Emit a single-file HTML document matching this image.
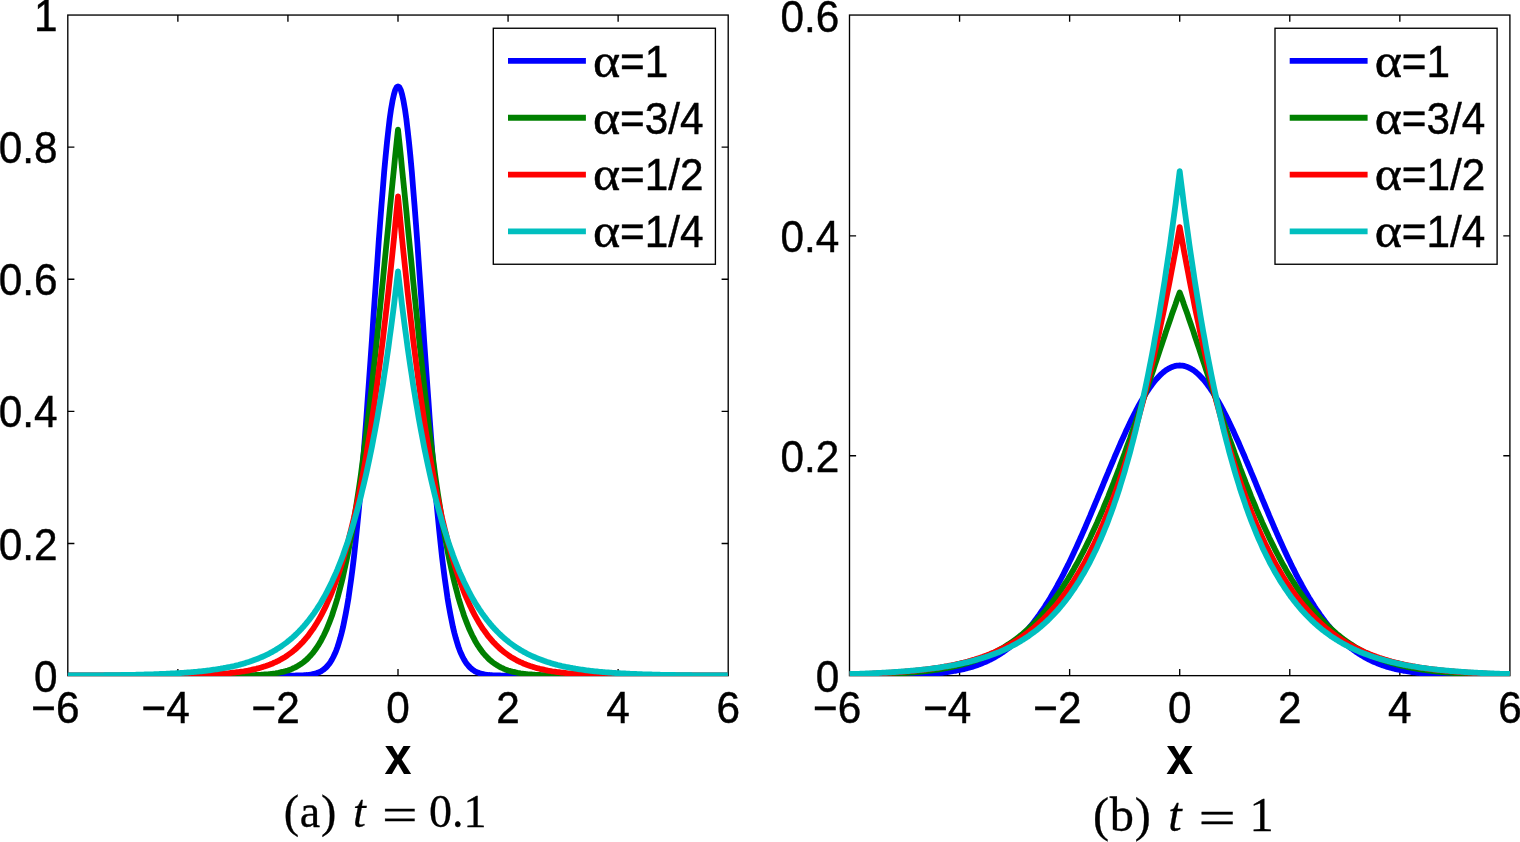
<!DOCTYPE html>
<html><head><meta charset="utf-8"><title>Fundamental solutions</title>
<style>
html,body{margin:0;padding:0;background:#fff;}
body{width:1520px;height:842px;overflow:hidden;}
svg{display:block;}
.tk{font-family:"Liberation Sans",Arial,Helvetica,sans-serif;font-size:44px;fill:#000;stroke:#000;stroke-width:0.45;}
.xl{font-family:"Liberation Sans",Arial,Helvetica,sans-serif;font-weight:bold;font-size:54px;fill:#000;}
.al{font-family:"Liberation Serif","Times New Roman",serif;fill:#000;stroke:#000;stroke-width:0.5;}
.cap{font-family:"Liberation Serif","Times New Roman",serif;fill:#000;stroke:#000;stroke-width:0.3;}
.ax{stroke:#000;stroke-width:1.35;fill:none;}
.cv{fill:none;stroke-width:5.8;stroke-linejoin:round;stroke-linecap:butt;}
</style></head><body>
<svg width="1520" height="842" viewBox="0 0 1520 842">
<rect width="1520" height="842" fill="#fff"/>

<defs>
<clipPath id="c0"><rect x="67.00" y="14.25" width="660.90" height="661.75"/></clipPath>
<clipPath id="c1"><rect x="848.70" y="14.25" width="661.80" height="661.75"/></clipPath>
</defs>
<g>
<rect class="ax" x="67.80" y="15.05" width="660.40" height="660.60"/>
<path class="ax" d="M177.87 675.65v-6.6M177.87 15.05v6.6M287.93 675.65v-6.6M287.93 15.05v6.6M398.00 675.65v-6.6M398.00 15.05v6.6M508.07 675.65v-6.6M508.07 15.05v6.6M618.13 675.65v-6.6M618.13 15.05v6.6M67.80 543.53h6.6M728.20 543.53h-6.6M67.80 411.41h6.6M728.20 411.41h-6.6M67.80 279.29h6.6M728.20 279.29h-6.6M67.80 147.17h6.6M728.20 147.17h-6.6"/>
<g clip-path="url(#c0)">
<path class="cv" stroke="#0000ff" d="M67.8 675.6L69.2 675.6L70.6 675.6L71.9 675.6L73.3 675.6L74.7 675.6L76.1 675.6L77.4 675.6L78.8 675.6L80.2 675.6L81.6 675.6L82.9 675.6L84.3 675.6L85.7 675.6L87.1 675.6L88.4 675.6L89.8 675.6L91.2 675.6L92.6 675.6L93.9 675.6L95.3 675.6L96.7 675.6L98.1 675.6L99.4 675.6L100.8 675.6L102.2 675.6L103.6 675.6L104.9 675.6L106.3 675.6L107.7 675.6L109.1 675.6L110.5 675.6L111.8 675.6L113.2 675.6L114.6 675.6L116.0 675.6L117.3 675.6L118.7 675.6L120.1 675.6L121.5 675.6L122.8 675.6L124.2 675.6L125.6 675.6L127.0 675.6L128.3 675.6L129.7 675.6L131.1 675.6L132.5 675.6L133.8 675.6L135.2 675.6L136.6 675.6L138.0 675.6L139.3 675.6L140.7 675.6L142.1 675.6L143.5 675.6L144.8 675.6L146.2 675.6L147.6 675.6L149.0 675.6L150.3 675.6L151.7 675.6L153.1 675.6L154.5 675.6L155.9 675.6L157.2 675.6L158.6 675.6L160.0 675.6L161.4 675.6L162.7 675.6L164.1 675.6L165.5 675.6L166.9 675.6L168.2 675.6L169.6 675.6L171.0 675.6L172.4 675.6L173.7 675.6L175.1 675.6L176.5 675.6L177.9 675.6L179.2 675.6L180.6 675.6L182.0 675.6L183.4 675.6L184.7 675.6L186.1 675.6L187.5 675.6L188.9 675.6L190.2 675.6L191.6 675.6L193.0 675.6L194.4 675.6L195.8 675.6L197.1 675.6L198.5 675.6L199.9 675.6L201.3 675.6L202.6 675.6L204.0 675.6L205.4 675.6L206.8 675.6L208.1 675.6L209.5 675.6L210.9 675.6L212.3 675.6L213.6 675.6L215.0 675.6L216.4 675.6L217.8 675.6L219.1 675.6L220.5 675.6L221.9 675.6L223.3 675.6L224.6 675.6L226.0 675.6L227.4 675.6L228.8 675.6L230.1 675.6L231.5 675.6L232.9 675.6L234.3 675.6L235.7 675.6L237.0 675.6L238.4 675.6L239.8 675.6L241.2 675.6L242.5 675.6L243.9 675.6L245.3 675.6L246.7 675.6L248.0 675.6L249.4 675.6L250.8 675.6L252.2 675.6L253.5 675.6L254.9 675.6L256.3 675.6L257.7 675.6L259.0 675.6L260.4 675.6L261.8 675.6L263.2 675.6L264.5 675.6L265.9 675.6L267.3 675.6L268.7 675.6L270.0 675.6L271.4 675.6L272.8 675.6L274.2 675.6L275.6 675.6L276.9 675.6L278.3 675.6L279.7 675.6L281.1 675.6L282.4 675.6L283.8 675.6L285.2 675.6L286.6 675.6L287.9 675.6L289.3 675.6L290.7 675.6L292.1 675.6L293.4 675.6L294.8 675.6L296.2 675.5L297.6 675.5L298.9 675.5L300.3 675.4L301.7 675.4L303.1 675.3L304.4 675.2L305.8 675.1L307.2 675.0L308.6 674.8L309.9 674.7L311.3 674.5L312.7 674.2L314.1 673.9L315.4 673.5L316.8 673.1L318.2 672.6L319.6 672.0L321.0 671.3L322.3 670.4L323.7 669.5L325.1 668.3L326.5 667.0L327.8 665.5L329.2 663.8L330.6 661.8L332.0 659.5L333.3 657.0L334.7 654.1L336.1 650.8L337.5 647.0L338.8 642.9L340.2 638.2L341.6 633.0L343.0 627.3L344.3 620.9L345.7 613.9L347.1 606.3L348.5 597.9L349.8 588.7L351.2 578.8L352.6 568.2L354.0 556.7L355.3 544.4L356.7 531.2L358.1 517.3L359.5 502.5L360.9 487.0L362.2 470.7L363.6 453.7L365.0 436.1L366.4 417.8L367.7 399.0L369.1 379.8L370.5 360.2L371.9 340.4L373.2 320.5L374.6 300.5L376.0 280.6L377.4 261.0L378.7 241.8L380.1 223.1L381.5 205.1L382.9 187.9L384.2 171.6L385.6 156.4L387.0 142.4L388.4 129.8L389.7 118.6L391.1 108.9L392.5 100.9L393.9 94.6L395.2 90.0L396.6 87.3L398.0 86.4L399.4 87.3L400.8 90.0L402.1 94.6L403.5 100.9L404.9 108.9L406.3 118.6L407.6 129.8L409.0 142.4L410.4 156.4L411.8 171.6L413.1 187.9L414.5 205.1L415.9 223.1L417.3 241.8L418.6 261.0L420.0 280.6L421.4 300.5L422.8 320.5L424.1 340.4L425.5 360.2L426.9 379.8L428.3 399.0L429.6 417.8L431.0 436.1L432.4 453.7L433.8 470.7L435.1 487.0L436.5 502.5L437.9 517.3L439.3 531.2L440.7 544.4L442.0 556.7L443.4 568.2L444.8 578.8L446.2 588.7L447.5 597.9L448.9 606.3L450.3 613.9L451.7 620.9L453.0 627.3L454.4 633.0L455.8 638.2L457.2 642.9L458.5 647.0L459.9 650.8L461.3 654.1L462.7 657.0L464.0 659.5L465.4 661.8L466.8 663.8L468.2 665.5L469.5 667.0L470.9 668.3L472.3 669.5L473.7 670.4L475.0 671.3L476.4 672.0L477.8 672.6L479.2 673.1L480.6 673.5L481.9 673.9L483.3 674.2L484.7 674.5L486.1 674.7L487.4 674.8L488.8 675.0L490.2 675.1L491.6 675.2L492.9 675.3L494.3 675.4L495.7 675.4L497.1 675.5L498.4 675.5L499.8 675.5L501.2 675.6L502.6 675.6L503.9 675.6L505.3 675.6L506.7 675.6L508.1 675.6L509.4 675.6L510.8 675.6L512.2 675.6L513.6 675.6L514.9 675.6L516.3 675.6L517.7 675.6L519.1 675.6L520.4 675.6L521.8 675.6L523.2 675.6L524.6 675.6L526.0 675.6L527.3 675.6L528.7 675.6L530.1 675.6L531.5 675.6L532.8 675.6L534.2 675.6L535.6 675.6L537.0 675.6L538.3 675.6L539.7 675.6L541.1 675.6L542.5 675.6L543.8 675.6L545.2 675.6L546.6 675.6L548.0 675.6L549.3 675.6L550.7 675.6L552.1 675.6L553.5 675.6L554.8 675.6L556.2 675.6L557.6 675.6L559.0 675.6L560.3 675.6L561.7 675.6L563.1 675.6L564.5 675.6L565.9 675.6L567.2 675.6L568.6 675.6L570.0 675.6L571.4 675.6L572.7 675.6L574.1 675.6L575.5 675.6L576.9 675.6L578.2 675.6L579.6 675.6L581.0 675.6L582.4 675.6L583.7 675.6L585.1 675.6L586.5 675.6L587.9 675.6L589.2 675.6L590.6 675.6L592.0 675.6L593.4 675.6L594.7 675.6L596.1 675.6L597.5 675.6L598.9 675.6L600.2 675.6L601.6 675.6L603.0 675.6L604.4 675.6L605.8 675.6L607.1 675.6L608.5 675.6L609.9 675.6L611.3 675.6L612.6 675.6L614.0 675.6L615.4 675.6L616.8 675.6L618.1 675.6L619.5 675.6L620.9 675.6L622.3 675.6L623.6 675.6L625.0 675.6L626.4 675.6L627.8 675.6L629.1 675.6L630.5 675.6L631.9 675.6L633.3 675.6L634.6 675.6L636.0 675.6L637.4 675.6L638.8 675.6L640.1 675.6L641.5 675.6L642.9 675.6L644.3 675.6L645.6 675.6L647.0 675.6L648.4 675.6L649.8 675.6L651.2 675.6L652.5 675.6L653.9 675.6L655.3 675.6L656.7 675.6L658.0 675.6L659.4 675.6L660.8 675.6L662.2 675.6L663.5 675.6L664.9 675.6L666.3 675.6L667.7 675.6L669.0 675.6L670.4 675.6L671.8 675.6L673.2 675.6L674.5 675.6L675.9 675.6L677.3 675.6L678.7 675.6L680.0 675.6L681.4 675.6L682.8 675.6L684.2 675.6L685.5 675.6L686.9 675.6L688.3 675.6L689.7 675.6L691.1 675.6L692.4 675.6L693.8 675.6L695.2 675.6L696.6 675.6L697.9 675.6L699.3 675.6L700.7 675.6L702.1 675.6L703.4 675.6L704.8 675.6L706.2 675.6L707.6 675.6L708.9 675.6L710.3 675.6L711.7 675.6L713.1 675.6L714.4 675.6L715.8 675.6L717.2 675.6L718.6 675.6L719.9 675.6L721.3 675.6L722.7 675.6L724.1 675.6L725.4 675.6L726.8 675.6L728.2 675.6"/>
<path class="cv" stroke="#008000" d="M67.8 675.6L69.2 675.6L70.6 675.6L71.9 675.6L73.3 675.6L74.7 675.6L76.1 675.6L77.4 675.6L78.8 675.6L80.2 675.6L81.6 675.6L82.9 675.6L84.3 675.6L85.7 675.6L87.1 675.6L88.4 675.6L89.8 675.6L91.2 675.6L92.6 675.6L93.9 675.6L95.3 675.6L96.7 675.6L98.1 675.6L99.4 675.6L100.8 675.6L102.2 675.6L103.6 675.6L104.9 675.6L106.3 675.6L107.7 675.6L109.1 675.6L110.5 675.6L111.8 675.6L113.2 675.6L114.6 675.6L116.0 675.6L117.3 675.6L118.7 675.6L120.1 675.6L121.5 675.6L122.8 675.6L124.2 675.6L125.6 675.6L127.0 675.6L128.3 675.6L129.7 675.6L131.1 675.6L132.5 675.6L133.8 675.6L135.2 675.6L136.6 675.6L138.0 675.6L139.3 675.6L140.7 675.6L142.1 675.6L143.5 675.6L144.8 675.6L146.2 675.6L147.6 675.6L149.0 675.6L150.3 675.6L151.7 675.6L153.1 675.6L154.5 675.6L155.9 675.6L157.2 675.6L158.6 675.6L160.0 675.6L161.4 675.6L162.7 675.6L164.1 675.6L165.5 675.6L166.9 675.6L168.2 675.6L169.6 675.6L171.0 675.6L172.4 675.6L173.7 675.6L175.1 675.6L176.5 675.6L177.9 675.6L179.2 675.6L180.6 675.6L182.0 675.6L183.4 675.6L184.7 675.6L186.1 675.6L187.5 675.6L188.9 675.6L190.2 675.6L191.6 675.6L193.0 675.6L194.4 675.6L195.8 675.6L197.1 675.6L198.5 675.6L199.9 675.6L201.3 675.6L202.6 675.6L204.0 675.6L205.4 675.6L206.8 675.6L208.1 675.6L209.5 675.6L210.9 675.6L212.3 675.6L213.6 675.6L215.0 675.6L216.4 675.6L217.8 675.6L219.1 675.6L220.5 675.6L221.9 675.6L223.3 675.6L224.6 675.6L226.0 675.6L227.4 675.6L228.8 675.6L230.1 675.6L231.5 675.6L232.9 675.5L234.3 675.5L235.7 675.5L237.0 675.5L238.4 675.5L239.8 675.5L241.2 675.4L242.5 675.4L243.9 675.4L245.3 675.4L246.7 675.3L248.0 675.3L249.4 675.3L250.8 675.2L252.2 675.2L253.5 675.1L254.9 675.1L256.3 675.0L257.7 675.0L259.0 674.9L260.4 674.8L261.8 674.7L263.2 674.6L264.5 674.5L265.9 674.4L267.3 674.3L268.7 674.2L270.0 674.0L271.4 673.8L272.8 673.7L274.2 673.5L275.6 673.3L276.9 673.0L278.3 672.8L279.7 672.5L281.1 672.2L282.4 671.9L283.8 671.6L285.2 671.2L286.6 670.8L287.9 670.4L289.3 669.9L290.7 669.4L292.1 668.8L293.4 668.2L294.8 667.6L296.2 666.9L297.6 666.1L298.9 665.3L300.3 664.4L301.7 663.5L303.1 662.5L304.4 661.4L305.8 660.3L307.2 659.0L308.6 657.7L309.9 656.2L311.3 654.7L312.7 653.1L314.1 651.3L315.4 649.5L316.8 647.5L318.2 645.4L319.6 643.1L321.0 640.7L322.3 638.2L323.7 635.5L325.1 632.6L326.5 629.6L327.8 626.3L329.2 622.9L330.6 619.3L332.0 615.5L333.3 611.4L334.7 607.2L336.1 602.7L337.5 598.0L338.8 593.0L340.2 587.8L341.6 582.3L343.0 576.5L344.3 570.5L345.7 564.2L347.1 557.6L348.5 550.7L349.8 543.5L351.2 536.0L352.6 528.2L354.0 520.1L355.3 511.6L356.7 502.8L358.1 493.8L359.5 484.3L360.9 474.6L362.2 464.6L363.6 454.2L365.0 443.5L366.4 432.5L367.7 421.2L369.1 409.6L370.5 397.7L371.9 385.6L373.2 373.1L374.6 360.5L376.0 347.6L377.4 334.5L378.7 321.1L380.1 307.7L381.5 294.0L382.9 280.3L384.2 266.4L385.6 252.5L387.0 238.5L388.4 224.5L389.7 210.6L391.1 196.7L392.5 182.9L393.9 169.3L395.2 155.8L396.6 142.6L398.0 129.6L399.4 142.6L400.8 155.8L402.1 169.3L403.5 182.9L404.9 196.7L406.3 210.6L407.6 224.5L409.0 238.5L410.4 252.5L411.8 266.4L413.1 280.3L414.5 294.0L415.9 307.7L417.3 321.1L418.6 334.5L420.0 347.6L421.4 360.5L422.8 373.1L424.1 385.6L425.5 397.7L426.9 409.6L428.3 421.2L429.6 432.5L431.0 443.5L432.4 454.2L433.8 464.6L435.1 474.6L436.5 484.3L437.9 493.8L439.3 502.8L440.7 511.6L442.0 520.1L443.4 528.2L444.8 536.0L446.2 543.5L447.5 550.7L448.9 557.6L450.3 564.2L451.7 570.5L453.0 576.5L454.4 582.3L455.8 587.8L457.2 593.0L458.5 598.0L459.9 602.7L461.3 607.2L462.7 611.4L464.0 615.5L465.4 619.3L466.8 622.9L468.2 626.3L469.5 629.6L470.9 632.6L472.3 635.5L473.7 638.2L475.0 640.7L476.4 643.1L477.8 645.4L479.2 647.5L480.6 649.5L481.9 651.3L483.3 653.1L484.7 654.7L486.1 656.2L487.4 657.7L488.8 659.0L490.2 660.3L491.6 661.4L492.9 662.5L494.3 663.5L495.7 664.4L497.1 665.3L498.4 666.1L499.8 666.9L501.2 667.6L502.6 668.2L503.9 668.8L505.3 669.4L506.7 669.9L508.1 670.4L509.4 670.8L510.8 671.2L512.2 671.6L513.6 671.9L514.9 672.2L516.3 672.5L517.7 672.8L519.1 673.0L520.4 673.3L521.8 673.5L523.2 673.7L524.6 673.8L526.0 674.0L527.3 674.2L528.7 674.3L530.1 674.4L531.5 674.5L532.8 674.6L534.2 674.7L535.6 674.8L537.0 674.9L538.3 675.0L539.7 675.0L541.1 675.1L542.5 675.1L543.8 675.2L545.2 675.2L546.6 675.3L548.0 675.3L549.3 675.3L550.7 675.4L552.1 675.4L553.5 675.4L554.8 675.4L556.2 675.5L557.6 675.5L559.0 675.5L560.3 675.5L561.7 675.5L563.1 675.5L564.5 675.6L565.9 675.6L567.2 675.6L568.6 675.6L570.0 675.6L571.4 675.6L572.7 675.6L574.1 675.6L575.5 675.6L576.9 675.6L578.2 675.6L579.6 675.6L581.0 675.6L582.4 675.6L583.7 675.6L585.1 675.6L586.5 675.6L587.9 675.6L589.2 675.6L590.6 675.6L592.0 675.6L593.4 675.6L594.7 675.6L596.1 675.6L597.5 675.6L598.9 675.6L600.2 675.6L601.6 675.6L603.0 675.6L604.4 675.6L605.8 675.6L607.1 675.6L608.5 675.6L609.9 675.6L611.3 675.6L612.6 675.6L614.0 675.6L615.4 675.6L616.8 675.6L618.1 675.6L619.5 675.6L620.9 675.6L622.3 675.6L623.6 675.6L625.0 675.6L626.4 675.6L627.8 675.6L629.1 675.6L630.5 675.6L631.9 675.6L633.3 675.6L634.6 675.6L636.0 675.6L637.4 675.6L638.8 675.6L640.1 675.6L641.5 675.6L642.9 675.6L644.3 675.6L645.6 675.6L647.0 675.6L648.4 675.6L649.8 675.6L651.2 675.6L652.5 675.6L653.9 675.6L655.3 675.6L656.7 675.6L658.0 675.6L659.4 675.6L660.8 675.6L662.2 675.6L663.5 675.6L664.9 675.6L666.3 675.6L667.7 675.6L669.0 675.6L670.4 675.6L671.8 675.6L673.2 675.6L674.5 675.6L675.9 675.6L677.3 675.6L678.7 675.6L680.0 675.6L681.4 675.6L682.8 675.6L684.2 675.6L685.5 675.6L686.9 675.6L688.3 675.6L689.7 675.6L691.1 675.6L692.4 675.6L693.8 675.6L695.2 675.6L696.6 675.6L697.9 675.6L699.3 675.6L700.7 675.6L702.1 675.6L703.4 675.6L704.8 675.6L706.2 675.6L707.6 675.6L708.9 675.6L710.3 675.6L711.7 675.6L713.1 675.6L714.4 675.6L715.8 675.6L717.2 675.6L718.6 675.6L719.9 675.6L721.3 675.6L722.7 675.6L724.1 675.6L725.4 675.6L726.8 675.6L728.2 675.6"/>
<path class="cv" stroke="#ff0000" d="M67.8 675.6L69.2 675.6L70.6 675.6L71.9 675.6L73.3 675.6L74.7 675.6L76.1 675.6L77.4 675.6L78.8 675.6L80.2 675.6L81.6 675.6L82.9 675.6L84.3 675.6L85.7 675.6L87.1 675.6L88.4 675.6L89.8 675.6L91.2 675.6L92.6 675.6L93.9 675.6L95.3 675.6L96.7 675.6L98.1 675.6L99.4 675.6L100.8 675.6L102.2 675.6L103.6 675.6L104.9 675.6L106.3 675.6L107.7 675.6L109.1 675.6L110.5 675.6L111.8 675.6L113.2 675.6L114.6 675.6L116.0 675.6L117.3 675.6L118.7 675.6L120.1 675.6L121.5 675.6L122.8 675.6L124.2 675.6L125.6 675.6L127.0 675.6L128.3 675.6L129.7 675.6L131.1 675.6L132.5 675.6L133.8 675.6L135.2 675.6L136.6 675.6L138.0 675.6L139.3 675.6L140.7 675.6L142.1 675.6L143.5 675.6L144.8 675.6L146.2 675.6L147.6 675.6L149.0 675.5L150.3 675.5L151.7 675.5L153.1 675.5L154.5 675.5L155.9 675.5L157.2 675.5L158.6 675.5L160.0 675.5L161.4 675.5L162.7 675.5L164.1 675.5L165.5 675.4L166.9 675.4L168.2 675.4L169.6 675.4L171.0 675.4L172.4 675.4L173.7 675.4L175.1 675.3L176.5 675.3L177.9 675.3L179.2 675.3L180.6 675.3L182.0 675.2L183.4 675.2L184.7 675.2L186.1 675.2L187.5 675.1L188.9 675.1L190.2 675.1L191.6 675.1L193.0 675.0L194.4 675.0L195.8 675.0L197.1 674.9L198.5 674.9L199.9 674.8L201.3 674.8L202.6 674.7L204.0 674.7L205.4 674.6L206.8 674.6L208.1 674.5L209.5 674.5L210.9 674.4L212.3 674.3L213.6 674.2L215.0 674.2L216.4 674.1L217.8 674.0L219.1 673.9L220.5 673.8L221.9 673.7L223.3 673.6L224.6 673.5L226.0 673.4L227.4 673.3L228.8 673.2L230.1 673.0L231.5 672.9L232.9 672.7L234.3 672.6L235.7 672.4L237.0 672.2L238.4 672.1L239.8 671.9L241.2 671.7L242.5 671.5L243.9 671.3L245.3 671.0L246.7 670.8L248.0 670.6L249.4 670.3L250.8 670.0L252.2 669.7L253.5 669.4L254.9 669.1L256.3 668.8L257.7 668.4L259.0 668.1L260.4 667.7L261.8 667.3L263.2 666.9L264.5 666.4L265.9 666.0L267.3 665.5L268.7 665.0L270.0 664.5L271.4 663.9L272.8 663.4L274.2 662.7L275.6 662.1L276.9 661.5L278.3 660.8L279.7 660.1L281.1 659.3L282.4 658.5L283.8 657.7L285.2 656.9L286.6 656.0L287.9 655.0L289.3 654.0L290.7 653.0L292.1 652.0L293.4 650.9L294.8 649.7L296.2 648.5L297.6 647.2L298.9 645.9L300.3 644.6L301.7 643.1L303.1 641.7L304.4 640.1L305.8 638.5L307.2 636.8L308.6 635.1L309.9 633.2L311.3 631.3L312.7 629.4L314.1 627.3L315.4 625.2L316.8 623.0L318.2 620.6L319.6 618.2L321.0 615.7L322.3 613.1L323.7 610.4L325.1 607.6L326.5 604.7L327.8 601.7L329.2 598.6L330.6 595.3L332.0 591.9L333.3 588.4L334.7 584.8L336.1 581.0L337.5 577.1L338.8 573.0L340.2 568.8L341.6 564.4L343.0 559.9L344.3 555.2L345.7 550.4L347.1 545.4L348.5 540.2L349.8 534.8L351.2 529.3L352.6 523.5L354.0 517.6L355.3 511.5L356.7 505.1L358.1 498.6L359.5 491.8L360.9 484.8L362.2 477.6L363.6 470.2L365.0 462.5L366.4 454.6L367.7 446.4L369.1 438.0L370.5 429.4L371.9 420.5L373.2 411.3L374.6 401.8L376.0 392.1L377.4 382.1L378.7 371.8L380.1 361.3L381.5 350.4L382.9 339.3L384.2 327.8L385.6 316.1L387.0 304.0L388.4 291.7L389.7 279.0L391.1 266.0L392.5 252.7L393.9 239.1L395.2 225.2L396.6 210.9L398.0 196.3L399.4 210.9L400.8 225.2L402.1 239.1L403.5 252.7L404.9 266.0L406.3 279.0L407.6 291.7L409.0 304.0L410.4 316.1L411.8 327.8L413.1 339.3L414.5 350.4L415.9 361.3L417.3 371.8L418.6 382.1L420.0 392.1L421.4 401.8L422.8 411.3L424.1 420.5L425.5 429.4L426.9 438.0L428.3 446.4L429.6 454.6L431.0 462.5L432.4 470.2L433.8 477.6L435.1 484.8L436.5 491.8L437.9 498.6L439.3 505.1L440.7 511.5L442.0 517.6L443.4 523.5L444.8 529.3L446.2 534.8L447.5 540.2L448.9 545.4L450.3 550.4L451.7 555.2L453.0 559.9L454.4 564.4L455.8 568.8L457.2 573.0L458.5 577.1L459.9 581.0L461.3 584.8L462.7 588.4L464.0 591.9L465.4 595.3L466.8 598.6L468.2 601.7L469.5 604.7L470.9 607.6L472.3 610.4L473.7 613.1L475.0 615.7L476.4 618.2L477.8 620.6L479.2 623.0L480.6 625.2L481.9 627.3L483.3 629.4L484.7 631.3L486.1 633.2L487.4 635.1L488.8 636.8L490.2 638.5L491.6 640.1L492.9 641.7L494.3 643.1L495.7 644.6L497.1 645.9L498.4 647.2L499.8 648.5L501.2 649.7L502.6 650.9L503.9 652.0L505.3 653.0L506.7 654.0L508.1 655.0L509.4 656.0L510.8 656.9L512.2 657.7L513.6 658.5L514.9 659.3L516.3 660.1L517.7 660.8L519.1 661.5L520.4 662.1L521.8 662.7L523.2 663.4L524.6 663.9L526.0 664.5L527.3 665.0L528.7 665.5L530.1 666.0L531.5 666.4L532.8 666.9L534.2 667.3L535.6 667.7L537.0 668.1L538.3 668.4L539.7 668.8L541.1 669.1L542.5 669.4L543.8 669.7L545.2 670.0L546.6 670.3L548.0 670.6L549.3 670.8L550.7 671.0L552.1 671.3L553.5 671.5L554.8 671.7L556.2 671.9L557.6 672.1L559.0 672.2L560.3 672.4L561.7 672.6L563.1 672.7L564.5 672.9L565.9 673.0L567.2 673.2L568.6 673.3L570.0 673.4L571.4 673.5L572.7 673.6L574.1 673.7L575.5 673.8L576.9 673.9L578.2 674.0L579.6 674.1L581.0 674.2L582.4 674.2L583.7 674.3L585.1 674.4L586.5 674.5L587.9 674.5L589.2 674.6L590.6 674.6L592.0 674.7L593.4 674.7L594.7 674.8L596.1 674.8L597.5 674.9L598.9 674.9L600.2 675.0L601.6 675.0L603.0 675.0L604.4 675.1L605.8 675.1L607.1 675.1L608.5 675.1L609.9 675.2L611.3 675.2L612.6 675.2L614.0 675.2L615.4 675.3L616.8 675.3L618.1 675.3L619.5 675.3L620.9 675.3L622.3 675.4L623.6 675.4L625.0 675.4L626.4 675.4L627.8 675.4L629.1 675.4L630.5 675.4L631.9 675.5L633.3 675.5L634.6 675.5L636.0 675.5L637.4 675.5L638.8 675.5L640.1 675.5L641.5 675.5L642.9 675.5L644.3 675.5L645.6 675.5L647.0 675.5L648.4 675.6L649.8 675.6L651.2 675.6L652.5 675.6L653.9 675.6L655.3 675.6L656.7 675.6L658.0 675.6L659.4 675.6L660.8 675.6L662.2 675.6L663.5 675.6L664.9 675.6L666.3 675.6L667.7 675.6L669.0 675.6L670.4 675.6L671.8 675.6L673.2 675.6L674.5 675.6L675.9 675.6L677.3 675.6L678.7 675.6L680.0 675.6L681.4 675.6L682.8 675.6L684.2 675.6L685.5 675.6L686.9 675.6L688.3 675.6L689.7 675.6L691.1 675.6L692.4 675.6L693.8 675.6L695.2 675.6L696.6 675.6L697.9 675.6L699.3 675.6L700.7 675.6L702.1 675.6L703.4 675.6L704.8 675.6L706.2 675.6L707.6 675.6L708.9 675.6L710.3 675.6L711.7 675.6L713.1 675.6L714.4 675.6L715.8 675.6L717.2 675.6L718.6 675.6L719.9 675.6L721.3 675.6L722.7 675.6L724.1 675.6L725.4 675.6L726.8 675.6L728.2 675.6"/>
<path class="cv" stroke="#00bfbf" d="M67.8 675.5L69.2 675.5L70.6 675.5L71.9 675.5L73.3 675.5L74.7 675.5L76.1 675.5L77.4 675.4L78.8 675.4L80.2 675.4L81.6 675.4L82.9 675.4L84.3 675.4L85.7 675.4L87.1 675.4L88.4 675.4L89.8 675.4L91.2 675.4L92.6 675.3L93.9 675.3L95.3 675.3L96.7 675.3L98.1 675.3L99.4 675.3L100.8 675.3L102.2 675.3L103.6 675.3L104.9 675.2L106.3 675.2L107.7 675.2L109.1 675.2L110.5 675.2L111.8 675.2L113.2 675.1L114.6 675.1L116.0 675.1L117.3 675.1L118.7 675.1L120.1 675.1L121.5 675.0L122.8 675.0L124.2 675.0L125.6 675.0L127.0 674.9L128.3 674.9L129.7 674.9L131.1 674.9L132.5 674.8L133.8 674.8L135.2 674.8L136.6 674.7L138.0 674.7L139.3 674.7L140.7 674.7L142.1 674.6L143.5 674.6L144.8 674.5L146.2 674.5L147.6 674.5L149.0 674.4L150.3 674.4L151.7 674.3L153.1 674.3L154.5 674.2L155.9 674.2L157.2 674.1L158.6 674.1L160.0 674.0L161.4 674.0L162.7 673.9L164.1 673.9L165.5 673.8L166.9 673.7L168.2 673.7L169.6 673.6L171.0 673.5L172.4 673.5L173.7 673.4L175.1 673.3L176.5 673.2L177.9 673.2L179.2 673.1L180.6 673.0L182.0 672.9L183.4 672.8L184.7 672.7L186.1 672.6L187.5 672.5L188.9 672.4L190.2 672.3L191.6 672.2L193.0 672.1L194.4 671.9L195.8 671.8L197.1 671.7L198.5 671.5L199.9 671.4L201.3 671.3L202.6 671.1L204.0 671.0L205.4 670.8L206.8 670.6L208.1 670.5L209.5 670.3L210.9 670.1L212.3 669.9L213.6 669.7L215.0 669.5L216.4 669.3L217.8 669.1L219.1 668.9L220.5 668.7L221.9 668.4L223.3 668.2L224.6 667.9L226.0 667.7L227.4 667.4L228.8 667.1L230.1 666.9L231.5 666.6L232.9 666.3L234.3 666.0L235.7 665.6L237.0 665.3L238.4 665.0L239.8 664.6L241.2 664.2L242.5 663.9L243.9 663.5L245.3 663.1L246.7 662.6L248.0 662.2L249.4 661.8L250.8 661.3L252.2 660.8L253.5 660.3L254.9 659.8L256.3 659.3L257.7 658.8L259.0 658.2L260.4 657.6L261.8 657.1L263.2 656.4L264.5 655.8L265.9 655.2L267.3 654.5L268.7 653.8L270.0 653.1L271.4 652.3L272.8 651.6L274.2 650.8L275.6 650.0L276.9 649.1L278.3 648.3L279.7 647.4L281.1 646.5L282.4 645.5L283.8 644.5L285.2 643.5L286.6 642.5L287.9 641.4L289.3 640.3L290.7 639.1L292.1 638.0L293.4 636.7L294.8 635.5L296.2 634.2L297.6 632.8L298.9 631.5L300.3 630.0L301.7 628.6L303.1 627.1L304.4 625.5L305.8 623.9L307.2 622.2L308.6 620.5L309.9 618.7L311.3 616.9L312.7 615.0L314.1 613.1L315.4 611.1L316.8 609.1L318.2 606.9L319.6 604.7L321.0 602.5L322.3 600.2L323.7 597.8L325.1 595.3L326.5 592.7L327.8 590.1L329.2 587.4L330.6 584.6L332.0 581.7L333.3 578.8L334.7 575.7L336.1 572.6L337.5 569.3L338.8 566.0L340.2 562.5L341.6 559.0L343.0 555.3L344.3 551.5L345.7 547.6L347.1 543.6L348.5 539.5L349.8 535.2L351.2 530.9L352.6 526.3L354.0 521.7L355.3 516.9L356.7 512.0L358.1 506.9L359.5 501.7L360.9 496.3L362.2 490.7L363.6 485.0L365.0 479.1L366.4 473.0L367.7 466.8L369.1 460.3L370.5 453.7L371.9 446.9L373.2 439.9L374.6 432.6L376.0 425.2L377.4 417.5L378.7 409.6L380.1 401.5L381.5 393.1L382.9 384.5L384.2 375.6L385.6 366.5L387.0 357.1L388.4 347.5L389.7 337.5L391.1 327.3L392.5 316.7L393.9 305.9L395.2 294.7L396.6 283.2L398.0 271.4L399.4 283.2L400.8 294.7L402.1 305.9L403.5 316.7L404.9 327.3L406.3 337.5L407.6 347.5L409.0 357.1L410.4 366.5L411.8 375.6L413.1 384.5L414.5 393.1L415.9 401.5L417.3 409.6L418.6 417.5L420.0 425.2L421.4 432.6L422.8 439.9L424.1 446.9L425.5 453.7L426.9 460.3L428.3 466.8L429.6 473.0L431.0 479.1L432.4 485.0L433.8 490.7L435.1 496.3L436.5 501.7L437.9 506.9L439.3 512.0L440.7 516.9L442.0 521.7L443.4 526.3L444.8 530.9L446.2 535.2L447.5 539.5L448.9 543.6L450.3 547.6L451.7 551.5L453.0 555.3L454.4 559.0L455.8 562.5L457.2 566.0L458.5 569.3L459.9 572.6L461.3 575.7L462.7 578.8L464.0 581.7L465.4 584.6L466.8 587.4L468.2 590.1L469.5 592.7L470.9 595.3L472.3 597.8L473.7 600.2L475.0 602.5L476.4 604.7L477.8 606.9L479.2 609.1L480.6 611.1L481.9 613.1L483.3 615.0L484.7 616.9L486.1 618.7L487.4 620.5L488.8 622.2L490.2 623.9L491.6 625.5L492.9 627.1L494.3 628.6L495.7 630.0L497.1 631.5L498.4 632.8L499.8 634.2L501.2 635.5L502.6 636.7L503.9 638.0L505.3 639.1L506.7 640.3L508.1 641.4L509.4 642.5L510.8 643.5L512.2 644.5L513.6 645.5L514.9 646.5L516.3 647.4L517.7 648.3L519.1 649.1L520.4 650.0L521.8 650.8L523.2 651.6L524.6 652.3L526.0 653.1L527.3 653.8L528.7 654.5L530.1 655.2L531.5 655.8L532.8 656.4L534.2 657.1L535.6 657.6L537.0 658.2L538.3 658.8L539.7 659.3L541.1 659.8L542.5 660.3L543.8 660.8L545.2 661.3L546.6 661.8L548.0 662.2L549.3 662.6L550.7 663.1L552.1 663.5L553.5 663.9L554.8 664.2L556.2 664.6L557.6 665.0L559.0 665.3L560.3 665.6L561.7 666.0L563.1 666.3L564.5 666.6L565.9 666.9L567.2 667.1L568.6 667.4L570.0 667.7L571.4 667.9L572.7 668.2L574.1 668.4L575.5 668.7L576.9 668.9L578.2 669.1L579.6 669.3L581.0 669.5L582.4 669.7L583.7 669.9L585.1 670.1L586.5 670.3L587.9 670.5L589.2 670.6L590.6 670.8L592.0 671.0L593.4 671.1L594.7 671.3L596.1 671.4L597.5 671.5L598.9 671.7L600.2 671.8L601.6 671.9L603.0 672.1L604.4 672.2L605.8 672.3L607.1 672.4L608.5 672.5L609.9 672.6L611.3 672.7L612.6 672.8L614.0 672.9L615.4 673.0L616.8 673.1L618.1 673.2L619.5 673.2L620.9 673.3L622.3 673.4L623.6 673.5L625.0 673.5L626.4 673.6L627.8 673.7L629.1 673.7L630.5 673.8L631.9 673.9L633.3 673.9L634.6 674.0L636.0 674.0L637.4 674.1L638.8 674.1L640.1 674.2L641.5 674.2L642.9 674.3L644.3 674.3L645.6 674.4L647.0 674.4L648.4 674.5L649.8 674.5L651.2 674.5L652.5 674.6L653.9 674.6L655.3 674.7L656.7 674.7L658.0 674.7L659.4 674.7L660.8 674.8L662.2 674.8L663.5 674.8L664.9 674.9L666.3 674.9L667.7 674.9L669.0 674.9L670.4 675.0L671.8 675.0L673.2 675.0L674.5 675.0L675.9 675.1L677.3 675.1L678.7 675.1L680.0 675.1L681.4 675.1L682.8 675.1L684.2 675.2L685.5 675.2L686.9 675.2L688.3 675.2L689.7 675.2L691.1 675.2L692.4 675.3L693.8 675.3L695.2 675.3L696.6 675.3L697.9 675.3L699.3 675.3L700.7 675.3L702.1 675.3L703.4 675.3L704.8 675.4L706.2 675.4L707.6 675.4L708.9 675.4L710.3 675.4L711.7 675.4L713.1 675.4L714.4 675.4L715.8 675.4L717.2 675.4L718.6 675.4L719.9 675.5L721.3 675.5L722.7 675.5L724.1 675.5L725.4 675.5L726.8 675.5L728.2 675.5"/>
</g>
<text class="tk" text-anchor="end" transform="translate(57.60 691.65) scale(0.962 1)">0</text>
<text class="tk" text-anchor="end" transform="translate(57.60 559.53) scale(0.962 1)">0.2</text>
<text class="tk" text-anchor="end" transform="translate(57.60 427.41) scale(0.962 1)">0.4</text>
<text class="tk" text-anchor="end" transform="translate(57.60 295.29) scale(0.962 1)">0.6</text>
<text class="tk" text-anchor="end" transform="translate(57.60 163.17) scale(0.962 1)">0.8</text>
<text class="tk" text-anchor="end" transform="translate(57.60 31.05) scale(0.962 1)">1</text>
<text class="tk" text-anchor="middle" transform="translate(55.50 723.00) scale(0.962 1)">−6</text>
<text class="tk" text-anchor="middle" transform="translate(165.57 723.00) scale(0.962 1)">−4</text>
<text class="tk" text-anchor="middle" transform="translate(275.63 723.00) scale(0.962 1)">−2</text>
<text class="tk" text-anchor="middle" transform="translate(398.00 723.00) scale(0.962 1)">0</text>
<text class="tk" text-anchor="middle" transform="translate(508.07 723.00) scale(0.962 1)">2</text>
<text class="tk" text-anchor="middle" transform="translate(618.13 723.00) scale(0.962 1)">4</text>
<text class="tk" text-anchor="middle" transform="translate(728.20 723.00) scale(0.962 1)">6</text>
<text class="xl" text-anchor="middle" transform="translate(398.00 774.30) scale(0.9 1)">x</text>
<rect class="ax" fill="#fff" style="fill:#fff" x="493.30" y="28.25" width="222.10" height="236.00"/>
<path class="cv" stroke="#0000ff" d="M508.00 60.90H585.90"/>
<text class="al" font-size="48" transform="translate(593.10 76.70) scale(1.08 1)">α</text>
<text class="tk" transform="translate(620.10 76.70) scale(0.962 1)">=1</text>
<path class="cv" stroke="#008000" d="M508.00 117.75H585.90"/>
<text class="al" font-size="48" transform="translate(593.10 133.55) scale(1.08 1)">α</text>
<text class="tk" transform="translate(620.10 133.55) scale(0.962 1)">=3/4</text>
<path class="cv" stroke="#ff0000" d="M508.00 174.60H585.90"/>
<text class="al" font-size="48" transform="translate(593.10 190.40) scale(1.08 1)">α</text>
<text class="tk" transform="translate(620.10 190.40) scale(0.962 1)">=1/2</text>
<path class="cv" stroke="#00bfbf" d="M508.00 231.45H585.90"/>
<text class="al" font-size="48" transform="translate(593.10 247.25) scale(1.08 1)">α</text>
<text class="tk" transform="translate(620.10 247.25) scale(0.962 1)">=1/4</text>
</g>
<g>
<rect class="ax" x="849.50" y="15.05" width="660.40" height="660.60"/>
<path class="ax" d="M959.57 675.65v-6.6M959.57 15.05v6.6M1069.63 675.65v-6.6M1069.63 15.05v6.6M1179.70 675.65v-6.6M1179.70 15.05v6.6M1289.77 675.65v-6.6M1289.77 15.05v6.6M1399.83 675.65v-6.6M1399.83 15.05v6.6M849.50 455.77h6.6M1509.90 455.77h-6.6M849.50 235.88h6.6M1509.90 235.88h-6.6"/>
<g clip-path="url(#c1)">
<path class="cv" stroke="#0000ff" d="M849.5 675.6L850.9 675.6L852.3 675.6L853.6 675.6L855.0 675.6L856.4 675.6L857.8 675.6L859.1 675.6L860.5 675.6L861.9 675.6L863.3 675.6L864.6 675.6L866.0 675.6L867.4 675.6L868.8 675.5L870.1 675.5L871.5 675.5L872.9 675.5L874.3 675.5L875.6 675.5L877.0 675.5L878.4 675.5L879.8 675.5L881.1 675.5L882.5 675.4L883.9 675.4L885.3 675.4L886.6 675.4L888.0 675.4L889.4 675.4L890.8 675.3L892.2 675.3L893.5 675.3L894.9 675.3L896.3 675.2L897.7 675.2L899.0 675.2L900.4 675.2L901.8 675.1L903.2 675.1L904.5 675.1L905.9 675.0L907.3 675.0L908.7 674.9L910.0 674.9L911.4 674.8L912.8 674.8L914.2 674.7L915.5 674.7L916.9 674.6L918.3 674.5L919.7 674.5L921.0 674.4L922.4 674.3L923.8 674.3L925.2 674.2L926.5 674.1L927.9 674.0L929.3 673.9L930.7 673.8L932.0 673.7L933.4 673.6L934.8 673.5L936.2 673.3L937.6 673.2L938.9 673.1L940.3 672.9L941.7 672.8L943.1 672.6L944.4 672.4L945.8 672.3L947.2 672.1L948.6 671.9L949.9 671.7L951.3 671.5L952.7 671.2L954.1 671.0L955.4 670.8L956.8 670.5L958.2 670.2L959.6 670.0L960.9 669.7L962.3 669.4L963.7 669.1L965.1 668.7L966.4 668.4L967.8 668.0L969.2 667.7L970.6 667.3L971.9 666.9L973.3 666.4L974.7 666.0L976.1 665.5L977.5 665.1L978.8 664.6L980.2 664.0L981.6 663.5L983.0 662.9L984.3 662.4L985.7 661.8L987.1 661.1L988.5 660.5L989.8 659.8L991.2 659.1L992.6 658.4L994.0 657.7L995.3 656.9L996.7 656.1L998.1 655.3L999.5 654.4L1000.8 653.5L1002.2 652.6L1003.6 651.7L1005.0 650.7L1006.3 649.7L1007.7 648.7L1009.1 647.6L1010.5 646.5L1011.8 645.3L1013.2 644.2L1014.6 643.0L1016.0 641.7L1017.4 640.4L1018.7 639.1L1020.1 637.8L1021.5 636.4L1022.9 634.9L1024.2 633.5L1025.6 632.0L1027.0 630.4L1028.4 628.8L1029.7 627.2L1031.1 625.5L1032.5 623.8L1033.9 622.1L1035.2 620.3L1036.6 618.4L1038.0 616.5L1039.4 614.6L1040.7 612.7L1042.1 610.6L1043.5 608.6L1044.9 606.5L1046.2 604.4L1047.6 602.2L1049.0 599.9L1050.4 597.7L1051.7 595.4L1053.1 593.0L1054.5 590.6L1055.9 588.2L1057.3 585.7L1058.6 583.2L1060.0 580.6L1061.4 578.0L1062.8 575.4L1064.1 572.7L1065.5 569.9L1066.9 567.2L1068.3 564.4L1069.6 561.6L1071.0 558.7L1072.4 555.8L1073.8 552.8L1075.1 549.9L1076.5 546.9L1077.9 543.8L1079.3 540.8L1080.6 537.7L1082.0 534.6L1083.4 531.4L1084.8 528.3L1086.1 525.1L1087.5 521.9L1088.9 518.6L1090.3 515.4L1091.6 512.1L1093.0 508.8L1094.4 505.5L1095.8 502.2L1097.2 498.9L1098.5 495.6L1099.9 492.3L1101.3 489.0L1102.7 485.7L1104.0 482.3L1105.4 479.0L1106.8 475.7L1108.2 472.4L1109.5 469.1L1110.9 465.8L1112.3 462.5L1113.7 459.3L1115.0 456.0L1116.4 452.8L1117.8 449.6L1119.2 446.5L1120.5 443.3L1121.9 440.2L1123.3 437.2L1124.7 434.1L1126.0 431.1L1127.4 428.2L1128.8 425.2L1130.2 422.4L1131.5 419.5L1132.9 416.8L1134.3 414.0L1135.7 411.4L1137.0 408.8L1138.4 406.2L1139.8 403.7L1141.2 401.3L1142.6 398.9L1143.9 396.6L1145.3 394.4L1146.7 392.2L1148.1 390.1L1149.4 388.1L1150.8 386.2L1152.2 384.3L1153.6 382.5L1154.9 380.8L1156.3 379.2L1157.7 377.7L1159.1 376.2L1160.4 374.9L1161.8 373.6L1163.2 372.4L1164.6 371.3L1165.9 370.3L1167.3 369.4L1168.7 368.6L1170.1 367.9L1171.4 367.2L1172.8 366.7L1174.2 366.3L1175.6 365.9L1176.9 365.7L1178.3 365.6L1179.7 365.5L1181.1 365.6L1182.5 365.7L1183.8 365.9L1185.2 366.3L1186.6 366.7L1188.0 367.2L1189.3 367.9L1190.7 368.6L1192.1 369.4L1193.5 370.3L1194.8 371.3L1196.2 372.4L1197.6 373.6L1199.0 374.9L1200.3 376.2L1201.7 377.7L1203.1 379.2L1204.5 380.8L1205.8 382.5L1207.2 384.3L1208.6 386.2L1210.0 388.1L1211.3 390.1L1212.7 392.2L1214.1 394.4L1215.5 396.6L1216.8 398.9L1218.2 401.3L1219.6 403.7L1221.0 406.2L1222.4 408.8L1223.7 411.4L1225.1 414.0L1226.5 416.8L1227.9 419.5L1229.2 422.4L1230.6 425.2L1232.0 428.2L1233.4 431.1L1234.7 434.1L1236.1 437.2L1237.5 440.2L1238.9 443.3L1240.2 446.5L1241.6 449.6L1243.0 452.8L1244.4 456.0L1245.7 459.3L1247.1 462.5L1248.5 465.8L1249.9 469.1L1251.2 472.4L1252.6 475.7L1254.0 479.0L1255.4 482.3L1256.7 485.7L1258.1 489.0L1259.5 492.3L1260.9 495.6L1262.2 498.9L1263.6 502.2L1265.0 505.5L1266.4 508.8L1267.8 512.1L1269.1 515.4L1270.5 518.6L1271.9 521.9L1273.3 525.1L1274.6 528.3L1276.0 531.4L1277.4 534.6L1278.8 537.7L1280.1 540.8L1281.5 543.8L1282.9 546.9L1284.3 549.9L1285.6 552.8L1287.0 555.8L1288.4 558.7L1289.8 561.6L1291.1 564.4L1292.5 567.2L1293.9 569.9L1295.3 572.7L1296.6 575.4L1298.0 578.0L1299.4 580.6L1300.8 583.2L1302.1 585.7L1303.5 588.2L1304.9 590.6L1306.3 593.0L1307.7 595.4L1309.0 597.7L1310.4 599.9L1311.8 602.2L1313.2 604.4L1314.5 606.5L1315.9 608.6L1317.3 610.6L1318.7 612.7L1320.0 614.6L1321.4 616.5L1322.8 618.4L1324.2 620.3L1325.5 622.1L1326.9 623.8L1328.3 625.5L1329.7 627.2L1331.0 628.8L1332.4 630.4L1333.8 632.0L1335.2 633.5L1336.5 634.9L1337.9 636.4L1339.3 637.8L1340.7 639.1L1342.0 640.4L1343.4 641.7L1344.8 643.0L1346.2 644.2L1347.6 645.3L1348.9 646.5L1350.3 647.6L1351.7 648.7L1353.1 649.7L1354.4 650.7L1355.8 651.7L1357.2 652.6L1358.6 653.5L1359.9 654.4L1361.3 655.3L1362.7 656.1L1364.1 656.9L1365.4 657.7L1366.8 658.4L1368.2 659.1L1369.6 659.8L1370.9 660.5L1372.3 661.1L1373.7 661.8L1375.1 662.4L1376.4 662.9L1377.8 663.5L1379.2 664.0L1380.6 664.6L1381.9 665.1L1383.3 665.5L1384.7 666.0L1386.1 666.4L1387.5 666.9L1388.8 667.3L1390.2 667.7L1391.6 668.0L1393.0 668.4L1394.3 668.7L1395.7 669.1L1397.1 669.4L1398.5 669.7L1399.8 670.0L1401.2 670.2L1402.6 670.5L1404.0 670.8L1405.3 671.0L1406.7 671.2L1408.1 671.5L1409.5 671.7L1410.8 671.9L1412.2 672.1L1413.6 672.3L1415.0 672.4L1416.3 672.6L1417.7 672.8L1419.1 672.9L1420.5 673.1L1421.8 673.2L1423.2 673.3L1424.6 673.5L1426.0 673.6L1427.3 673.7L1428.7 673.8L1430.1 673.9L1431.5 674.0L1432.9 674.1L1434.2 674.2L1435.6 674.3L1437.0 674.3L1438.4 674.4L1439.7 674.5L1441.1 674.5L1442.5 674.6L1443.9 674.7L1445.2 674.7L1446.6 674.8L1448.0 674.8L1449.4 674.9L1450.7 674.9L1452.1 675.0L1453.5 675.0L1454.9 675.1L1456.2 675.1L1457.6 675.1L1459.0 675.2L1460.4 675.2L1461.7 675.2L1463.1 675.2L1464.5 675.3L1465.9 675.3L1467.2 675.3L1468.6 675.3L1470.0 675.4L1471.4 675.4L1472.8 675.4L1474.1 675.4L1475.5 675.4L1476.9 675.4L1478.3 675.5L1479.6 675.5L1481.0 675.5L1482.4 675.5L1483.8 675.5L1485.1 675.5L1486.5 675.5L1487.9 675.5L1489.3 675.5L1490.6 675.5L1492.0 675.6L1493.4 675.6L1494.8 675.6L1496.1 675.6L1497.5 675.6L1498.9 675.6L1500.3 675.6L1501.6 675.6L1503.0 675.6L1504.4 675.6L1505.8 675.6L1507.1 675.6L1508.5 675.6L1509.9 675.6"/>
<path class="cv" stroke="#008000" d="M849.5 675.1L850.9 675.1L852.3 675.1L853.6 675.1L855.0 675.0L856.4 675.0L857.8 675.0L859.1 674.9L860.5 674.9L861.9 674.9L863.3 674.9L864.6 674.8L866.0 674.8L867.4 674.8L868.8 674.7L870.1 674.7L871.5 674.6L872.9 674.6L874.3 674.6L875.6 674.5L877.0 674.5L878.4 674.4L879.8 674.4L881.1 674.3L882.5 674.3L883.9 674.2L885.3 674.2L886.6 674.1L888.0 674.0L889.4 674.0L890.8 673.9L892.2 673.8L893.5 673.8L894.9 673.7L896.3 673.6L897.7 673.5L899.0 673.5L900.4 673.4L901.8 673.3L903.2 673.2L904.5 673.1L905.9 673.0L907.3 672.9L908.7 672.8L910.0 672.7L911.4 672.6L912.8 672.5L914.2 672.4L915.5 672.2L916.9 672.1L918.3 672.0L919.7 671.8L921.0 671.7L922.4 671.5L923.8 671.4L925.2 671.2L926.5 671.1L927.9 670.9L929.3 670.7L930.7 670.6L932.0 670.4L933.4 670.2L934.8 670.0L936.2 669.8L937.6 669.6L938.9 669.4L940.3 669.2L941.7 668.9L943.1 668.7L944.4 668.5L945.8 668.2L947.2 667.9L948.6 667.7L949.9 667.4L951.3 667.1L952.7 666.8L954.1 666.5L955.4 666.2L956.8 665.9L958.2 665.6L959.6 665.2L960.9 664.9L962.3 664.5L963.7 664.2L965.1 663.8L966.4 663.4L967.8 663.0L969.2 662.6L970.6 662.1L971.9 661.7L973.3 661.2L974.7 660.8L976.1 660.3L977.5 659.8L978.8 659.3L980.2 658.8L981.6 658.2L983.0 657.7L984.3 657.1L985.7 656.5L987.1 655.9L988.5 655.3L989.8 654.7L991.2 654.1L992.6 653.4L994.0 652.7L995.3 652.0L996.7 651.3L998.1 650.6L999.5 649.8L1000.8 649.0L1002.2 648.2L1003.6 647.4L1005.0 646.6L1006.3 645.7L1007.7 644.8L1009.1 643.9L1010.5 643.0L1011.8 642.1L1013.2 641.1L1014.6 640.1L1016.0 639.1L1017.4 638.0L1018.7 637.0L1020.1 635.9L1021.5 634.8L1022.9 633.6L1024.2 632.4L1025.6 631.2L1027.0 630.0L1028.4 628.8L1029.7 627.5L1031.1 626.2L1032.5 624.8L1033.9 623.5L1035.2 622.1L1036.6 620.6L1038.0 619.2L1039.4 617.7L1040.7 616.2L1042.1 614.6L1043.5 613.0L1044.9 611.4L1046.2 609.8L1047.6 608.1L1049.0 606.3L1050.4 604.6L1051.7 602.8L1053.1 601.0L1054.5 599.1L1055.9 597.2L1057.3 595.3L1058.6 593.3L1060.0 591.3L1061.4 589.3L1062.8 587.2L1064.1 585.1L1065.5 582.9L1066.9 580.7L1068.3 578.5L1069.6 576.2L1071.0 573.9L1072.4 571.6L1073.8 569.2L1075.1 566.7L1076.5 564.3L1077.9 561.8L1079.3 559.2L1080.6 556.6L1082.0 554.0L1083.4 551.3L1084.8 548.6L1086.1 545.9L1087.5 543.1L1088.9 540.3L1090.3 537.4L1091.6 534.5L1093.0 531.5L1094.4 528.5L1095.8 525.5L1097.2 522.4L1098.5 519.3L1099.9 516.2L1101.3 513.0L1102.7 509.8L1104.0 506.5L1105.4 503.2L1106.8 499.9L1108.2 496.5L1109.5 493.1L1110.9 489.6L1112.3 486.1L1113.7 482.6L1115.0 479.1L1116.4 475.5L1117.8 471.9L1119.2 468.2L1120.5 464.5L1121.9 460.8L1123.3 457.0L1124.7 453.3L1126.0 449.5L1127.4 445.6L1128.8 441.8L1130.2 437.9L1131.5 434.0L1132.9 430.0L1134.3 426.1L1135.7 422.1L1137.0 418.1L1138.4 414.1L1139.8 410.0L1141.2 406.0L1142.6 401.9L1143.9 397.8L1145.3 393.7L1146.7 389.6L1148.1 385.5L1149.4 381.4L1150.8 377.2L1152.2 373.1L1153.6 369.0L1154.9 364.8L1156.3 360.7L1157.7 356.6L1159.1 352.4L1160.4 348.3L1161.8 344.2L1163.2 340.1L1164.6 336.0L1165.9 331.9L1167.3 327.9L1168.7 323.8L1170.1 319.8L1171.4 315.8L1172.8 311.8L1174.2 307.9L1175.6 304.0L1176.9 300.1L1178.3 296.3L1179.7 292.4L1181.1 296.3L1182.5 300.1L1183.8 304.0L1185.2 307.9L1186.6 311.8L1188.0 315.8L1189.3 319.8L1190.7 323.8L1192.1 327.9L1193.5 331.9L1194.8 336.0L1196.2 340.1L1197.6 344.2L1199.0 348.3L1200.3 352.4L1201.7 356.6L1203.1 360.7L1204.5 364.8L1205.8 369.0L1207.2 373.1L1208.6 377.2L1210.0 381.4L1211.3 385.5L1212.7 389.6L1214.1 393.7L1215.5 397.8L1216.8 401.9L1218.2 406.0L1219.6 410.0L1221.0 414.1L1222.4 418.1L1223.7 422.1L1225.1 426.1L1226.5 430.0L1227.9 434.0L1229.2 437.9L1230.6 441.8L1232.0 445.6L1233.4 449.5L1234.7 453.3L1236.1 457.0L1237.5 460.8L1238.9 464.5L1240.2 468.2L1241.6 471.9L1243.0 475.5L1244.4 479.1L1245.7 482.6L1247.1 486.1L1248.5 489.6L1249.9 493.1L1251.2 496.5L1252.6 499.9L1254.0 503.2L1255.4 506.5L1256.7 509.8L1258.1 513.0L1259.5 516.2L1260.9 519.3L1262.2 522.4L1263.6 525.5L1265.0 528.5L1266.4 531.5L1267.8 534.5L1269.1 537.4L1270.5 540.3L1271.9 543.1L1273.3 545.9L1274.6 548.6L1276.0 551.3L1277.4 554.0L1278.8 556.6L1280.1 559.2L1281.5 561.8L1282.9 564.3L1284.3 566.7L1285.6 569.2L1287.0 571.6L1288.4 573.9L1289.8 576.2L1291.1 578.5L1292.5 580.7L1293.9 582.9L1295.3 585.1L1296.6 587.2L1298.0 589.3L1299.4 591.3L1300.8 593.3L1302.1 595.3L1303.5 597.2L1304.9 599.1L1306.3 601.0L1307.7 602.8L1309.0 604.6L1310.4 606.3L1311.8 608.1L1313.2 609.8L1314.5 611.4L1315.9 613.0L1317.3 614.6L1318.7 616.2L1320.0 617.7L1321.4 619.2L1322.8 620.6L1324.2 622.1L1325.5 623.5L1326.9 624.8L1328.3 626.2L1329.7 627.5L1331.0 628.8L1332.4 630.0L1333.8 631.2L1335.2 632.4L1336.5 633.6L1337.9 634.8L1339.3 635.9L1340.7 637.0L1342.0 638.0L1343.4 639.1L1344.8 640.1L1346.2 641.1L1347.6 642.1L1348.9 643.0L1350.3 643.9L1351.7 644.8L1353.1 645.7L1354.4 646.6L1355.8 647.4L1357.2 648.2L1358.6 649.0L1359.9 649.8L1361.3 650.6L1362.7 651.3L1364.1 652.0L1365.4 652.7L1366.8 653.4L1368.2 654.1L1369.6 654.7L1370.9 655.3L1372.3 655.9L1373.7 656.5L1375.1 657.1L1376.4 657.7L1377.8 658.2L1379.2 658.8L1380.6 659.3L1381.9 659.8L1383.3 660.3L1384.7 660.8L1386.1 661.2L1387.5 661.7L1388.8 662.1L1390.2 662.6L1391.6 663.0L1393.0 663.4L1394.3 663.8L1395.7 664.2L1397.1 664.5L1398.5 664.9L1399.8 665.2L1401.2 665.6L1402.6 665.9L1404.0 666.2L1405.3 666.5L1406.7 666.8L1408.1 667.1L1409.5 667.4L1410.8 667.7L1412.2 667.9L1413.6 668.2L1415.0 668.5L1416.3 668.7L1417.7 668.9L1419.1 669.2L1420.5 669.4L1421.8 669.6L1423.2 669.8L1424.6 670.0L1426.0 670.2L1427.3 670.4L1428.7 670.6L1430.1 670.7L1431.5 670.9L1432.9 671.1L1434.2 671.2L1435.6 671.4L1437.0 671.5L1438.4 671.7L1439.7 671.8L1441.1 672.0L1442.5 672.1L1443.9 672.2L1445.2 672.4L1446.6 672.5L1448.0 672.6L1449.4 672.7L1450.7 672.8L1452.1 672.9L1453.5 673.0L1454.9 673.1L1456.2 673.2L1457.6 673.3L1459.0 673.4L1460.4 673.5L1461.7 673.5L1463.1 673.6L1464.5 673.7L1465.9 673.8L1467.2 673.8L1468.6 673.9L1470.0 674.0L1471.4 674.0L1472.8 674.1L1474.1 674.2L1475.5 674.2L1476.9 674.3L1478.3 674.3L1479.6 674.4L1481.0 674.4L1482.4 674.5L1483.8 674.5L1485.1 674.6L1486.5 674.6L1487.9 674.6L1489.3 674.7L1490.6 674.7L1492.0 674.8L1493.4 674.8L1494.8 674.8L1496.1 674.9L1497.5 674.9L1498.9 674.9L1500.3 674.9L1501.6 675.0L1503.0 675.0L1504.4 675.0L1505.8 675.1L1507.1 675.1L1508.5 675.1L1509.9 675.1"/>
<path class="cv" stroke="#ff0000" d="M849.5 674.4L850.9 674.4L852.3 674.3L853.6 674.3L855.0 674.2L856.4 674.2L857.8 674.2L859.1 674.1L860.5 674.1L861.9 674.0L863.3 674.0L864.6 673.9L866.0 673.9L867.4 673.8L868.8 673.8L870.1 673.7L871.5 673.6L872.9 673.6L874.3 673.5L875.6 673.5L877.0 673.4L878.4 673.3L879.8 673.3L881.1 673.2L882.5 673.1L883.9 673.0L885.3 673.0L886.6 672.9L888.0 672.8L889.4 672.7L890.8 672.6L892.2 672.6L893.5 672.5L894.9 672.4L896.3 672.3L897.7 672.2L899.0 672.1L900.4 672.0L901.8 671.9L903.2 671.8L904.5 671.6L905.9 671.5L907.3 671.4L908.7 671.3L910.0 671.2L911.4 671.0L912.8 670.9L914.2 670.8L915.5 670.6L916.9 670.5L918.3 670.3L919.7 670.2L921.0 670.0L922.4 669.9L923.8 669.7L925.2 669.5L926.5 669.4L927.9 669.2L929.3 669.0L930.7 668.8L932.0 668.6L933.4 668.4L934.8 668.2L936.2 668.0L937.6 667.8L938.9 667.6L940.3 667.4L941.7 667.1L943.1 666.9L944.4 666.7L945.8 666.4L947.2 666.2L948.6 665.9L949.9 665.6L951.3 665.4L952.7 665.1L954.1 664.8L955.4 664.5L956.8 664.2L958.2 663.9L959.6 663.6L960.9 663.2L962.3 662.9L963.7 662.6L965.1 662.2L966.4 661.8L967.8 661.5L969.2 661.1L970.6 660.7L971.9 660.3L973.3 659.9L974.7 659.5L976.1 659.0L977.5 658.6L978.8 658.1L980.2 657.7L981.6 657.2L983.0 656.7L984.3 656.2L985.7 655.7L987.1 655.2L988.5 654.6L989.8 654.1L991.2 653.5L992.6 653.0L994.0 652.4L995.3 651.8L996.7 651.1L998.1 650.5L999.5 649.9L1000.8 649.2L1002.2 648.5L1003.6 647.8L1005.0 647.1L1006.3 646.4L1007.7 645.6L1009.1 644.9L1010.5 644.1L1011.8 643.3L1013.2 642.5L1014.6 641.6L1016.0 640.8L1017.4 639.9L1018.7 639.0L1020.1 638.1L1021.5 637.1L1022.9 636.1L1024.2 635.2L1025.6 634.2L1027.0 633.1L1028.4 632.1L1029.7 631.0L1031.1 629.9L1032.5 628.8L1033.9 627.6L1035.2 626.4L1036.6 625.2L1038.0 624.0L1039.4 622.7L1040.7 621.5L1042.1 620.1L1043.5 618.8L1044.9 617.4L1046.2 616.0L1047.6 614.6L1049.0 613.1L1050.4 611.6L1051.7 610.1L1053.1 608.5L1054.5 606.9L1055.9 605.3L1057.3 603.7L1058.6 602.0L1060.0 600.2L1061.4 598.4L1062.8 596.6L1064.1 594.8L1065.5 592.9L1066.9 591.0L1068.3 589.0L1069.6 587.0L1071.0 585.0L1072.4 582.9L1073.8 580.7L1075.1 578.6L1076.5 576.4L1077.9 574.1L1079.3 571.8L1080.6 569.4L1082.0 567.0L1083.4 564.6L1084.8 562.1L1086.1 559.5L1087.5 556.9L1088.9 554.3L1090.3 551.6L1091.6 548.8L1093.0 546.0L1094.4 543.2L1095.8 540.2L1097.2 537.3L1098.5 534.2L1099.9 531.2L1101.3 528.0L1102.7 524.8L1104.0 521.6L1105.4 518.2L1106.8 514.9L1108.2 511.4L1109.5 507.9L1110.9 504.3L1112.3 500.7L1113.7 497.0L1115.0 493.2L1116.4 489.4L1117.8 485.5L1119.2 481.5L1120.5 477.5L1121.9 473.4L1123.3 469.2L1124.7 464.9L1126.0 460.6L1127.4 456.2L1128.8 451.7L1130.2 447.2L1131.5 442.5L1132.9 437.8L1134.3 433.0L1135.7 428.2L1137.0 423.2L1138.4 418.2L1139.8 413.1L1141.2 407.9L1142.6 402.7L1143.9 397.3L1145.3 391.9L1146.7 386.4L1148.1 380.8L1149.4 375.1L1150.8 369.3L1152.2 363.4L1153.6 357.5L1154.9 351.4L1156.3 345.3L1157.7 339.1L1159.1 332.8L1160.4 326.4L1161.8 319.9L1163.2 313.3L1164.6 306.6L1165.9 299.9L1167.3 293.0L1168.7 286.1L1170.1 279.0L1171.4 271.9L1172.8 264.6L1174.2 257.3L1175.6 249.9L1176.9 242.4L1178.3 234.8L1179.7 227.1L1181.1 234.8L1182.5 242.4L1183.8 249.9L1185.2 257.3L1186.6 264.6L1188.0 271.9L1189.3 279.0L1190.7 286.1L1192.1 293.0L1193.5 299.9L1194.8 306.6L1196.2 313.3L1197.6 319.9L1199.0 326.4L1200.3 332.8L1201.7 339.1L1203.1 345.3L1204.5 351.4L1205.8 357.5L1207.2 363.4L1208.6 369.3L1210.0 375.1L1211.3 380.8L1212.7 386.4L1214.1 391.9L1215.5 397.3L1216.8 402.7L1218.2 407.9L1219.6 413.1L1221.0 418.2L1222.4 423.2L1223.7 428.2L1225.1 433.0L1226.5 437.8L1227.9 442.5L1229.2 447.2L1230.6 451.7L1232.0 456.2L1233.4 460.6L1234.7 464.9L1236.1 469.2L1237.5 473.4L1238.9 477.5L1240.2 481.5L1241.6 485.5L1243.0 489.4L1244.4 493.2L1245.7 497.0L1247.1 500.7L1248.5 504.3L1249.9 507.9L1251.2 511.4L1252.6 514.9L1254.0 518.2L1255.4 521.6L1256.7 524.8L1258.1 528.0L1259.5 531.2L1260.9 534.2L1262.2 537.3L1263.6 540.2L1265.0 543.2L1266.4 546.0L1267.8 548.8L1269.1 551.6L1270.5 554.3L1271.9 556.9L1273.3 559.5L1274.6 562.1L1276.0 564.6L1277.4 567.0L1278.8 569.4L1280.1 571.8L1281.5 574.1L1282.9 576.4L1284.3 578.6L1285.6 580.7L1287.0 582.9L1288.4 585.0L1289.8 587.0L1291.1 589.0L1292.5 591.0L1293.9 592.9L1295.3 594.8L1296.6 596.6L1298.0 598.4L1299.4 600.2L1300.8 602.0L1302.1 603.7L1303.5 605.3L1304.9 606.9L1306.3 608.5L1307.7 610.1L1309.0 611.6L1310.4 613.1L1311.8 614.6L1313.2 616.0L1314.5 617.4L1315.9 618.8L1317.3 620.1L1318.7 621.5L1320.0 622.7L1321.4 624.0L1322.8 625.2L1324.2 626.4L1325.5 627.6L1326.9 628.8L1328.3 629.9L1329.7 631.0L1331.0 632.1L1332.4 633.1L1333.8 634.2L1335.2 635.2L1336.5 636.1L1337.9 637.1L1339.3 638.1L1340.7 639.0L1342.0 639.9L1343.4 640.8L1344.8 641.6L1346.2 642.5L1347.6 643.3L1348.9 644.1L1350.3 644.9L1351.7 645.6L1353.1 646.4L1354.4 647.1L1355.8 647.8L1357.2 648.5L1358.6 649.2L1359.9 649.9L1361.3 650.5L1362.7 651.1L1364.1 651.8L1365.4 652.4L1366.8 653.0L1368.2 653.5L1369.6 654.1L1370.9 654.6L1372.3 655.2L1373.7 655.7L1375.1 656.2L1376.4 656.7L1377.8 657.2L1379.2 657.7L1380.6 658.1L1381.9 658.6L1383.3 659.0L1384.7 659.5L1386.1 659.9L1387.5 660.3L1388.8 660.7L1390.2 661.1L1391.6 661.5L1393.0 661.8L1394.3 662.2L1395.7 662.6L1397.1 662.9L1398.5 663.2L1399.8 663.6L1401.2 663.9L1402.6 664.2L1404.0 664.5L1405.3 664.8L1406.7 665.1L1408.1 665.4L1409.5 665.6L1410.8 665.9L1412.2 666.2L1413.6 666.4L1415.0 666.7L1416.3 666.9L1417.7 667.1L1419.1 667.4L1420.5 667.6L1421.8 667.8L1423.2 668.0L1424.6 668.2L1426.0 668.4L1427.3 668.6L1428.7 668.8L1430.1 669.0L1431.5 669.2L1432.9 669.4L1434.2 669.5L1435.6 669.7L1437.0 669.9L1438.4 670.0L1439.7 670.2L1441.1 670.3L1442.5 670.5L1443.9 670.6L1445.2 670.8L1446.6 670.9L1448.0 671.0L1449.4 671.2L1450.7 671.3L1452.1 671.4L1453.5 671.5L1454.9 671.6L1456.2 671.8L1457.6 671.9L1459.0 672.0L1460.4 672.1L1461.7 672.2L1463.1 672.3L1464.5 672.4L1465.9 672.5L1467.2 672.6L1468.6 672.6L1470.0 672.7L1471.4 672.8L1472.8 672.9L1474.1 673.0L1475.5 673.0L1476.9 673.1L1478.3 673.2L1479.6 673.3L1481.0 673.3L1482.4 673.4L1483.8 673.5L1485.1 673.5L1486.5 673.6L1487.9 673.6L1489.3 673.7L1490.6 673.8L1492.0 673.8L1493.4 673.9L1494.8 673.9L1496.1 674.0L1497.5 674.0L1498.9 674.1L1500.3 674.1L1501.6 674.2L1503.0 674.2L1504.4 674.2L1505.8 674.3L1507.1 674.3L1508.5 674.4L1509.9 674.4"/>
<path class="cv" stroke="#00bfbf" d="M849.5 674.1L850.9 674.0L852.3 674.0L853.6 673.9L855.0 673.9L856.4 673.9L857.8 673.8L859.1 673.8L860.5 673.7L861.9 673.7L863.3 673.6L864.6 673.6L866.0 673.5L867.4 673.4L868.8 673.4L870.1 673.3L871.5 673.3L872.9 673.2L874.3 673.2L875.6 673.1L877.0 673.0L878.4 673.0L879.8 672.9L881.1 672.8L882.5 672.7L883.9 672.7L885.3 672.6L886.6 672.5L888.0 672.4L889.4 672.4L890.8 672.3L892.2 672.2L893.5 672.1L894.9 672.0L896.3 671.9L897.7 671.8L899.0 671.7L900.4 671.6L901.8 671.5L903.2 671.4L904.5 671.3L905.9 671.2L907.3 671.1L908.7 671.0L910.0 670.9L911.4 670.7L912.8 670.6L914.2 670.5L915.5 670.3L916.9 670.2L918.3 670.1L919.7 669.9L921.0 669.8L922.4 669.6L923.8 669.5L925.2 669.3L926.5 669.2L927.9 669.0L929.3 668.8L930.7 668.7L932.0 668.5L933.4 668.3L934.8 668.1L936.2 667.9L937.6 667.8L938.9 667.6L940.3 667.4L941.7 667.1L943.1 666.9L944.4 666.7L945.8 666.5L947.2 666.3L948.6 666.0L949.9 665.8L951.3 665.5L952.7 665.3L954.1 665.0L955.4 664.8L956.8 664.5L958.2 664.2L959.6 663.9L960.9 663.6L962.3 663.3L963.7 663.0L965.1 662.7L966.4 662.4L967.8 662.1L969.2 661.7L970.6 661.4L971.9 661.0L973.3 660.7L974.7 660.3L976.1 659.9L977.5 659.5L978.8 659.1L980.2 658.7L981.6 658.3L983.0 657.9L984.3 657.4L985.7 657.0L987.1 656.5L988.5 656.1L989.8 655.6L991.2 655.1L992.6 654.6L994.0 654.1L995.3 653.5L996.7 653.0L998.1 652.4L999.5 651.9L1000.8 651.3L1002.2 650.7L1003.6 650.1L1005.0 649.4L1006.3 648.8L1007.7 648.1L1009.1 647.5L1010.5 646.8L1011.8 646.1L1013.2 645.3L1014.6 644.6L1016.0 643.9L1017.4 643.1L1018.7 642.3L1020.1 641.5L1021.5 640.6L1022.9 639.8L1024.2 638.9L1025.6 638.0L1027.0 637.1L1028.4 636.2L1029.7 635.2L1031.1 634.2L1032.5 633.2L1033.9 632.2L1035.2 631.1L1036.6 630.1L1038.0 629.0L1039.4 627.8L1040.7 626.7L1042.1 625.5L1043.5 624.3L1044.9 623.1L1046.2 621.8L1047.6 620.5L1049.0 619.2L1050.4 617.8L1051.7 616.4L1053.1 615.0L1054.5 613.5L1055.9 612.0L1057.3 610.5L1058.6 609.0L1060.0 607.4L1061.4 605.7L1062.8 604.1L1064.1 602.3L1065.5 600.6L1066.9 598.8L1068.3 597.0L1069.6 595.1L1071.0 593.2L1072.4 591.2L1073.8 589.2L1075.1 587.1L1076.5 585.0L1077.9 582.9L1079.3 580.7L1080.6 578.4L1082.0 576.1L1083.4 573.8L1084.8 571.3L1086.1 568.9L1087.5 566.3L1088.9 563.8L1090.3 561.1L1091.6 558.4L1093.0 555.6L1094.4 552.8L1095.8 549.9L1097.2 547.0L1098.5 543.9L1099.9 540.8L1101.3 537.7L1102.7 534.4L1104.0 531.1L1105.4 527.7L1106.8 524.3L1108.2 520.7L1109.5 517.1L1110.9 513.4L1112.3 509.6L1113.7 505.7L1115.0 501.7L1116.4 497.7L1117.8 493.5L1119.2 489.3L1120.5 485.0L1121.9 480.5L1123.3 476.0L1124.7 471.3L1126.0 466.6L1127.4 461.8L1128.8 456.8L1130.2 451.7L1131.5 446.6L1132.9 441.3L1134.3 435.8L1135.7 430.3L1137.0 424.7L1138.4 418.9L1139.8 413.0L1141.2 406.9L1142.6 400.7L1143.9 394.4L1145.3 388.0L1146.7 381.4L1148.1 374.6L1149.4 367.7L1150.8 360.7L1152.2 353.5L1153.6 346.1L1154.9 338.6L1156.3 330.9L1157.7 323.0L1159.1 315.0L1160.4 306.8L1161.8 298.4L1163.2 289.8L1164.6 281.1L1165.9 272.1L1167.3 263.0L1168.7 253.6L1170.1 244.1L1171.4 234.3L1172.8 224.3L1174.2 214.2L1175.6 203.8L1176.9 193.1L1178.3 182.3L1179.7 171.2L1181.1 182.3L1182.5 193.1L1183.8 203.8L1185.2 214.2L1186.6 224.3L1188.0 234.3L1189.3 244.1L1190.7 253.6L1192.1 263.0L1193.5 272.1L1194.8 281.1L1196.2 289.8L1197.6 298.4L1199.0 306.8L1200.3 315.0L1201.7 323.0L1203.1 330.9L1204.5 338.6L1205.8 346.1L1207.2 353.5L1208.6 360.7L1210.0 367.7L1211.3 374.6L1212.7 381.4L1214.1 388.0L1215.5 394.4L1216.8 400.7L1218.2 406.9L1219.6 413.0L1221.0 418.9L1222.4 424.7L1223.7 430.3L1225.1 435.8L1226.5 441.3L1227.9 446.6L1229.2 451.7L1230.6 456.8L1232.0 461.8L1233.4 466.6L1234.7 471.3L1236.1 476.0L1237.5 480.5L1238.9 485.0L1240.2 489.3L1241.6 493.5L1243.0 497.7L1244.4 501.7L1245.7 505.7L1247.1 509.6L1248.5 513.4L1249.9 517.1L1251.2 520.7L1252.6 524.3L1254.0 527.7L1255.4 531.1L1256.7 534.4L1258.1 537.7L1259.5 540.8L1260.9 543.9L1262.2 547.0L1263.6 549.9L1265.0 552.8L1266.4 555.6L1267.8 558.4L1269.1 561.1L1270.5 563.8L1271.9 566.3L1273.3 568.9L1274.6 571.3L1276.0 573.8L1277.4 576.1L1278.8 578.4L1280.1 580.7L1281.5 582.9L1282.9 585.0L1284.3 587.1L1285.6 589.2L1287.0 591.2L1288.4 593.2L1289.8 595.1L1291.1 597.0L1292.5 598.8L1293.9 600.6L1295.3 602.3L1296.6 604.1L1298.0 605.7L1299.4 607.4L1300.8 609.0L1302.1 610.5L1303.5 612.0L1304.9 613.5L1306.3 615.0L1307.7 616.4L1309.0 617.8L1310.4 619.2L1311.8 620.5L1313.2 621.8L1314.5 623.1L1315.9 624.3L1317.3 625.5L1318.7 626.7L1320.0 627.8L1321.4 629.0L1322.8 630.1L1324.2 631.1L1325.5 632.2L1326.9 633.2L1328.3 634.2L1329.7 635.2L1331.0 636.2L1332.4 637.1L1333.8 638.0L1335.2 638.9L1336.5 639.8L1337.9 640.6L1339.3 641.5L1340.7 642.3L1342.0 643.1L1343.4 643.9L1344.8 644.6L1346.2 645.3L1347.6 646.1L1348.9 646.8L1350.3 647.5L1351.7 648.1L1353.1 648.8L1354.4 649.4L1355.8 650.1L1357.2 650.7L1358.6 651.3L1359.9 651.9L1361.3 652.4L1362.7 653.0L1364.1 653.5L1365.4 654.1L1366.8 654.6L1368.2 655.1L1369.6 655.6L1370.9 656.1L1372.3 656.5L1373.7 657.0L1375.1 657.4L1376.4 657.9L1377.8 658.3L1379.2 658.7L1380.6 659.1L1381.9 659.5L1383.3 659.9L1384.7 660.3L1386.1 660.7L1387.5 661.0L1388.8 661.4L1390.2 661.7L1391.6 662.1L1393.0 662.4L1394.3 662.7L1395.7 663.0L1397.1 663.3L1398.5 663.6L1399.8 663.9L1401.2 664.2L1402.6 664.5L1404.0 664.8L1405.3 665.0L1406.7 665.3L1408.1 665.5L1409.5 665.8L1410.8 666.0L1412.2 666.3L1413.6 666.5L1415.0 666.7L1416.3 666.9L1417.7 667.1L1419.1 667.4L1420.5 667.6L1421.8 667.8L1423.2 667.9L1424.6 668.1L1426.0 668.3L1427.3 668.5L1428.7 668.7L1430.1 668.8L1431.5 669.0L1432.9 669.2L1434.2 669.3L1435.6 669.5L1437.0 669.6L1438.4 669.8L1439.7 669.9L1441.1 670.1L1442.5 670.2L1443.9 670.3L1445.2 670.5L1446.6 670.6L1448.0 670.7L1449.4 670.9L1450.7 671.0L1452.1 671.1L1453.5 671.2L1454.9 671.3L1456.2 671.4L1457.6 671.5L1459.0 671.6L1460.4 671.7L1461.7 671.8L1463.1 671.9L1464.5 672.0L1465.9 672.1L1467.2 672.2L1468.6 672.3L1470.0 672.4L1471.4 672.4L1472.8 672.5L1474.1 672.6L1475.5 672.7L1476.9 672.7L1478.3 672.8L1479.6 672.9L1481.0 673.0L1482.4 673.0L1483.8 673.1L1485.1 673.2L1486.5 673.2L1487.9 673.3L1489.3 673.3L1490.6 673.4L1492.0 673.4L1493.4 673.5L1494.8 673.6L1496.1 673.6L1497.5 673.7L1498.9 673.7L1500.3 673.8L1501.6 673.8L1503.0 673.9L1504.4 673.9L1505.8 673.9L1507.1 674.0L1508.5 674.0L1509.9 674.1"/>
</g>
<text class="tk" text-anchor="end" transform="translate(839.30 691.65) scale(0.962 1)">0</text>
<text class="tk" text-anchor="end" transform="translate(839.30 471.77) scale(0.962 1)">0.2</text>
<text class="tk" text-anchor="end" transform="translate(839.30 251.88) scale(0.962 1)">0.4</text>
<text class="tk" text-anchor="end" transform="translate(839.30 32.00) scale(0.962 1)">0.6</text>
<text class="tk" text-anchor="middle" transform="translate(837.20 723.00) scale(0.962 1)">−6</text>
<text class="tk" text-anchor="middle" transform="translate(947.27 723.00) scale(0.962 1)">−4</text>
<text class="tk" text-anchor="middle" transform="translate(1057.33 723.00) scale(0.962 1)">−2</text>
<text class="tk" text-anchor="middle" transform="translate(1179.70 723.00) scale(0.962 1)">0</text>
<text class="tk" text-anchor="middle" transform="translate(1289.77 723.00) scale(0.962 1)">2</text>
<text class="tk" text-anchor="middle" transform="translate(1399.83 723.00) scale(0.962 1)">4</text>
<text class="tk" text-anchor="middle" transform="translate(1509.90 723.00) scale(0.962 1)">6</text>
<text class="xl" text-anchor="middle" transform="translate(1179.70 774.30) scale(0.9 1)">x</text>
<rect class="ax" fill="#fff" style="fill:#fff" x="1275.00" y="28.25" width="222.10" height="236.00"/>
<path class="cv" stroke="#0000ff" d="M1289.70 60.90H1367.60"/>
<text class="al" font-size="48" transform="translate(1374.80 76.70) scale(1.08 1)">α</text>
<text class="tk" transform="translate(1401.80 76.70) scale(0.962 1)">=1</text>
<path class="cv" stroke="#008000" d="M1289.70 117.75H1367.60"/>
<text class="al" font-size="48" transform="translate(1374.80 133.55) scale(1.08 1)">α</text>
<text class="tk" transform="translate(1401.80 133.55) scale(0.962 1)">=3/4</text>
<path class="cv" stroke="#ff0000" d="M1289.70 174.60H1367.60"/>
<text class="al" font-size="48" transform="translate(1374.80 190.40) scale(1.08 1)">α</text>
<text class="tk" transform="translate(1401.80 190.40) scale(0.962 1)">=1/2</text>
<path class="cv" stroke="#00bfbf" d="M1289.70 231.45H1367.60"/>
<text class="al" font-size="48" transform="translate(1374.80 247.25) scale(1.08 1)">α</text>
<text class="tk" transform="translate(1401.80 247.25) scale(0.962 1)">=1/4</text>
</g>
<text class="cap" font-size="46" letter-spacing="0.7" transform="translate(283.80 826.80) scale(1 1)">(a)</text><text class="cap" font-size="46" font-style="italic" transform="translate(353.10 826.80) scale(1 1)">t</text><text class="cap" font-size="46" transform="translate(382.10 830.00) scale(1.37 1)">=</text><text class="cap" font-size="46" transform="translate(429.10 826.80) scale(1 1)">0.1</text>
<text class="cap" font-size="48.3" letter-spacing="0.7" transform="translate(1093.00 830.80) scale(1 1)">(b)</text><text class="cap" font-size="48.3" font-style="italic" transform="translate(1168.30 830.80) scale(1 1)">t</text><text class="cap" font-size="48.3" transform="translate(1198.60 834.20) scale(1.37 1)">=</text><text class="cap" font-size="48.3" transform="translate(1249.50 830.80) scale(1 1)">1</text>
</svg></body></html>
